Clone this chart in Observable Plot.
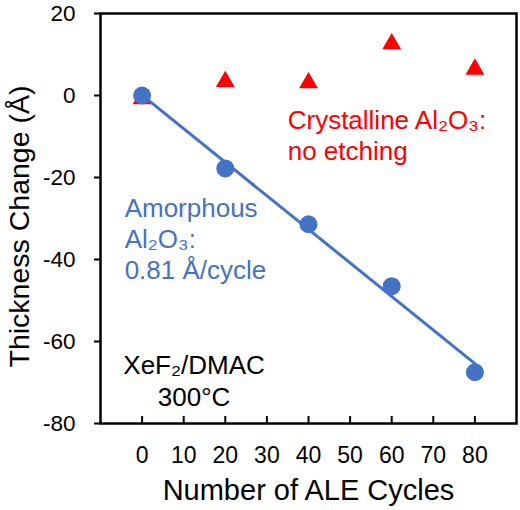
<!DOCTYPE html>
<html>
<head>
<meta charset="utf-8">
<script src="https://cdn.jsdelivr.net/npm/d3@7"></script>
<script src="https://cdn.jsdelivr.net/npm/@observablehq/plot@0.6"></script>
<style>
  body { margin: 0; background: #fff; }
  #chart svg { font-family: "Liberation Sans", Arial, sans-serif; }
</style>
</head>
<body>
<div id="chart"></div>
<script>
// ALE cycles and measured thickness change (Å)
const cycles = [0, 20, 40, 60, 80];
const amorphous = [0, -17.8, -31.4, -46.5, -67.5];
const crystalline = [-0.8, 3.4, 3.1, 12.6, 6.4];

const xTicks = [0, 10, 20, 30, 40, 50, 60, 70, 80];
const yTicks = [-80, -60, -40, -20, 0, 20];

// annotation text, placed in data space
const leftNotes = [
  { text: "Crystalline Al₂O₃:\nno etching", x: 35, y: -2.7, color: "#ff0000" },
  { text: "Amorphous\nAl₂O₃:\n0.81 Å/cycle", x: -4.2, y: -24.2, color: "#4472c4" }
];
const centerNotes = [
  { text: "XeF₂/DMAC\n300°C", x: 12.5, y: -62.4, color: "#000000" }
];

const amorData = cycles.map((c, i) => ({ cycles: c, value: amorphous[i] }));
const crysData = cycles.map((c, i) => ({ cycles: c, value: crystalline[i] }));

const blue = "#4472c4";
const red = "#ff0000";
const plain = d => String(d);

const chart = Plot.plot({
  width: 520,
  height: 510,
  marginLeft: 100,
  marginRight: 4,
  marginTop: 13,
  marginBottom: 87,
  x: { domain: [-10, 90] },
  y: { domain: [-80, 20] },
  marks: [
    Plot.axisX({ ticks: xTicks, tickSize: -7, tickFormat: () => "", label: null, strokeWidth: 2 }),
    Plot.axisX({ ticks: xTicks, tickSize: 0, tickPadding: 23, fontSize: 23, tickFormat: plain, label: null }),
    Plot.axisY({ ticks: yTicks, tickSize: 6, tickPadding: 19, fontSize: 22.5, tickFormat: plain, label: null, strokeWidth: 2 }),
    Plot.frame({ stroke: "#000", strokeWidth: 2.5 }),
    Plot.text(["Number of ALE Cycles"], { frameAnchor: "bottom", dy: 76, fontSize: 29 }),
    Plot.text(["Thickness Change (Å)"], {
      frameAnchor: "left", textAnchor: "middle", dx: -81, dy: 8, rotate: -90, fontSize: 28.5
    }),
    Plot.dot(crysData, { x: "cycles", y: "value", symbol: "triangle", r: 7, fill: red, stroke: null }),
    Plot.linearRegressionY(amorData, { x: "cycles", y: "value", stroke: blue, strokeWidth: 3, ci: 0 }),
    Plot.dot(amorData, { x: "cycles", y: "value", r: 9, fill: blue, stroke: null }),
    Plot.text(leftNotes, {
      x: "x", y: "y", text: "text", fill: "color", textAnchor: "start",
      lineAnchor: "top", lineHeight: 1.2, fontSize: 26
    }),
    Plot.text(centerNotes, {
      x: "x", y: "y", text: "text", fill: "color", textAnchor: "middle",
      lineAnchor: "top", lineHeight: 1.22, fontSize: 26
    })
  ]
});

document.getElementById('chart').appendChild(chart);
</script>
</body>
</html>
